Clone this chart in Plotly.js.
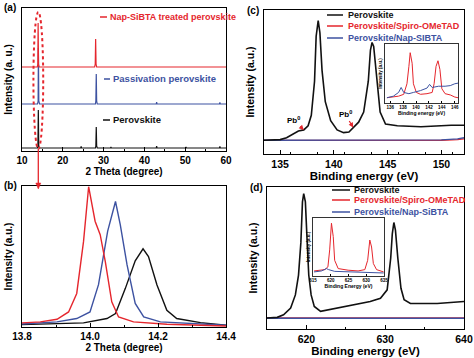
<!DOCTYPE html>
<html><head><meta charset="utf-8">
<script src="https://cdn.plot.ly/plotly-3.0.1.min.js"></script>
<style>html,body{margin:0;padding:0;background:#fff}#plot{width:474px;height:358px}</style>
</head><body><div id="plot"></div>
<script>
// ---------- Panel (a): XRD, full range (offset traces) ----------
const xrdPeroX = [10, 13.8, 13.9, 14.0, 14.1, 14.2, 24.4, 24.5, 24.6, 28.0, 28.1, 28.2, 28.3, 28.45, 31.7, 31.8, 31.9, 42.9, 43.0, 43.1, 50.1, 50.2, 50.3, 58.4, 58.5, 58.6, 60];
const xrdPeroY = [3, 3, 5, 41, 6, 3, 3, 4.5, 3, 3, 5, 24, 5, 3, 3, 4, 3, 3, 5, 3, 3, 4, 3, 3, 4.5, 3, 3];
const xrdPassX = [10, 13.8, 13.95, 14.02, 14.12, 14.3, 28.0, 28.1, 28.2, 28.3, 28.45, 42.9, 43.0, 43.1, 58.4, 58.5, 58.6, 60];
const xrdPassY = [47, 47, 50, 103, 50, 47, 47, 50, 77, 50, 47, 47, 49, 47, 47, 48.5, 47, 47];
const xrdNapX = [10, 13.75, 13.88, 13.95, 14.05, 14.2, 27.8, 27.95, 28.05, 28.15, 28.3, 60];
const xrdNapY = [84, 84, 87, 128, 87, 84, 84, 87, 112, 87, 84, 84];
const xrdTickVals = [10, 20, 30, 40, 50, 60];

// ---------- Panel (b): XRD zoom around 14 deg ----------
const bRedX = [13.8, 13.854, 13.903, 13.937, 13.961, 13.981, 13.996, 14.015, 14.03, 14.045, 14.064, 14.084, 14.128, 14.226, 14.4];
const bRedY = [0.029, 0.036, 0.055, 0.107, 0.238, 0.607, 0.995, 0.75, 0.655, 0.464, 0.179, 0.071, 0.036, 0.019, 0.007];
const bBlueX = [13.8, 13.903, 13.961, 14.0, 14.025, 14.052, 14.075, 14.089, 14.109, 14.133, 14.158, 14.207, 14.4];
const bBlueY = [0.021, 0.036, 0.06, 0.107, 0.3, 0.68, 0.89, 0.726, 0.44, 0.167, 0.071, 0.036, 0.012];
const bBlackX = [13.8, 13.981, 14.05, 14.075, 14.104, 14.133, 14.156, 14.172, 14.197, 14.226, 14.255, 14.325, 14.4];
const bBlackY = [0.017, 0.029, 0.06, 0.095, 0.274, 0.469, 0.555, 0.5, 0.298, 0.119, 0.06, 0.031, 0.012];
const bTickVals = [13.8, 14.0, 14.2, 14.4];
const bTickText = ['13.8', '14.0', '14.2', '14.4'];

// ---------- Panel (c): Pb 4f XPS ----------
const cPeroX = [133.5, 135, 135.6, 136.2, 136.7, 137.2, 137.6, 137.9, 138.2, 138.35, 138.54, 138.7, 138.9, 139.2, 139.7, 140.3, 140.9, 141.4, 141.8, 142.3, 142.77, 143.2, 143.4, 143.55, 143.7, 144.0, 144.3, 144.8, 145.9, 148.1, 149.6, 150.9, 152.1];
const cPeroY = [0.091, 0.095, 0.107, 0.13, 0.152, 0.159, 0.186, 0.255, 0.48, 0.777, 0.88, 0.8, 0.55, 0.345, 0.22, 0.159, 0.141, 0.145, 0.175, 0.21, 0.277, 0.48, 0.686, 0.736, 0.709, 0.48, 0.277, 0.198, 0.186, 0.18, 0.186, 0.19, 0.19];
const cSpiroX = [133.5, 140, 145, 150, 151.5, 152.1];
const cSpiroY = [0.09, 0.09, 0.09, 0.091, 0.095, 0.1];
const cNapX = [133.5, 140, 145, 150, 151.5, 152.1];
const cNapY = [0.091, 0.091, 0.091, 0.093, 0.1, 0.107];
const cTickVals = [135, 140, 145, 150];

// inset (c)
const ciRedX = [135.5, 136.5, 137.3, 138.1, 138.6, 138.9, 139.1, 139.4, 139.6, 140.05, 140.7, 141.7, 142.5, 142.8, 143.1, 143.4, 143.7, 144.0, 144.5, 145.3, 146.0, 146.5];
const ciRedY = [0.085, 0.1, 0.11, 0.14, 0.31, 0.59, 0.81, 0.64, 0.31, 0.17, 0.14, 0.15, 0.17, 0.31, 0.59, 0.68, 0.54, 0.23, 0.15, 0.13, 0.096, 0.085];
const ciBlueX = [135.5, 136.5, 137.3, 137.7, 138.1, 138.9, 139.6, 140.7, 141.7, 142.1, 142.5, 143.5, 144.5, 145.3, 146.0, 146.5];
const ciBlueY = [0.085, 0.11, 0.17, 0.25, 0.17, 0.15, 0.17, 0.2, 0.24, 0.3, 0.25, 0.27, 0.27, 0.28, 0.31, 0.32];
const ciTickVals = [136, 138, 140, 142, 144, 146];

// ---------- Panel (d): I 3d XPS ----------
const dPeroX = [615, 616.3, 617.1, 618.0, 618.6, 619.0, 619.3, 619.5, 619.66, 619.87, 620.1, 620.3, 620.6, 621.0, 621.8, 623.9, 626.0, 628.1, 629.4, 630.25, 630.7, 630.9, 631.1, 631.3, 631.6, 632.0, 632.4, 633.2, 636.6, 638.3, 640];
const dPeroY = [0.077, 0.082, 0.1, 0.147, 0.24, 0.38, 0.61, 0.895, 0.953, 0.895, 0.61, 0.38, 0.24, 0.159, 0.124, 0.147, 0.17, 0.194, 0.217, 0.276, 0.5, 0.67, 0.75, 0.696, 0.5, 0.287, 0.206, 0.18, 0.18, 0.187, 0.194];
const dSpiroX = [615, 625, 631, 632, 640];
const dSpiroY = [0.077, 0.077, 0.08, 0.077, 0.077];
const dNapX = [615, 625, 640];
const dNapY = [0.076, 0.076, 0.076];
const dTickVals = [620, 630, 640];

// inset (d)
const diRedX = [615.3, 616.9, 618.3, 619.2, 619.7, 620.2, 620.7, 621.1, 622.1, 624.9, 627.7, 629.6, 630.4, 631.0, 631.5, 632.0, 632.9, 634.9];
const diRedY = [0.087, 0.1, 0.11, 0.157, 0.45, 0.91, 0.68, 0.27, 0.128, 0.1, 0.087, 0.11, 0.27, 0.62, 0.5, 0.215, 0.11, 0.07];
const diBlueX = [615.3, 617.4, 618.8, 619.4, 621.1, 624.9, 629.6, 634.9];
const diBlueY = [0.07, 0.087, 0.128, 0.11, 0.08, 0.07, 0.064, 0.052];
const diTickVals = [615, 620, 625, 630, 635];

// ---------- styling ----------
const RED = '#e5262d', BLUE = '#3d52a1', BLACK = '#111111';
const W = 474, H = 358;
const px = v => v / W, py = v => 1 - v / H;
const FONT = 'Arial, Liberation Sans, sans-serif';

function ln(x, y, color, xa, ya, w) {
  return {x: x, y: y, type: 'scatter', mode: 'lines', xaxis: xa, yaxis: ya,
    line: {color: color, width: w || 1.4}, showlegend: false, hoverinfo: 'skip'};
}

const traces = [
  ln(xrdPeroX, xrdPeroY, BLACK, 'x', 'y', 1.2),
  ln(xrdPassX, xrdPassY, BLUE, 'x', 'y', 1.2),
  ln(xrdNapX, xrdNapY, RED, 'x', 'y', 1.2),
  ln(bBlackX, bBlackY, BLACK, 'x2', 'y2'),
  ln(bBlueX, bBlueY, BLUE, 'x2', 'y2'),
  ln(bRedX, bRedY, RED, 'x2', 'y2'),
  ln(cSpiroX, cSpiroY, RED, 'x3', 'y3'),
  ln(cNapX, cNapY, BLUE, 'x3', 'y3'),
  ln(cPeroX, cPeroY, BLACK, 'x3', 'y3', 1.6),
  ln(ciRedX, ciRedY, RED, 'x5', 'y5', 1),
  ln(ciBlueX, ciBlueY, BLUE, 'x5', 'y5', 1),
  ln(dSpiroX, dSpiroY, RED, 'x4', 'y4'),
  ln(dNapX, dNapY, BLUE, 'x4', 'y4'),
  ln(dPeroX, dPeroY, BLACK, 'x4', 'y4', 1.6),
  ln(diRedX, diRedY, RED, 'x6', 'y6', 1),
  ln(diBlueX, diBlueY, BLUE, 'x6', 'y6', 1)
];

function xax(dom, range, tickvals, ticktext, minorD, title, fs, anchor, tfs) {
  const a = {domain: dom, range: range, anchor: anchor, showline: true, linecolor: '#000', linewidth: 1.2,
    mirror: true, ticks: 'inside', ticklen: 4, tickwidth: 1, tickcolor: '#000',
    tickvals: tickvals, showgrid: false, zeroline: false, automargin: false,
    tickfont: {family: FONT, size: fs, color: '#000', weight: 'bold'},
    title: {text: title, font: {family: FONT, size: tfs || fs, color: '#000', weight: 'bold'}, standoff: 2}};
  if (ticktext) a.ticktext = ticktext;
  if (minorD) a.minor = {dtick: minorD, tick0: range[0], ticks: 'inside', ticklen: 2.5, tickcolor: '#000', showgrid: false};
  return a;
}
function yax(dom, range, title, fs, anchor, standoff) {
  return {domain: dom, range: range, anchor: anchor, showline: true, linecolor: '#000', linewidth: 1.2,
    mirror: true, ticks: '', showticklabels: false, showgrid: false, zeroline: false, automargin: false,
    title: {text: title, font: {family: FONT, size: fs, color: '#000', weight: 'bold'}, standoff: standoff}};
}
function lbl(text, x, y, color, size) {
  return {text: text, xref: 'paper', yref: 'paper', x: px(x), y: py(y), xanchor: 'left', yanchor: 'middle',
    showarrow: false, font: {family: FONT, size: size, weight: 'bold', color: color}};
}
function dash(x0, x1, y, color) {
  return {type: 'line', xref: 'paper', yref: 'paper', x0: px(x0), x1: px(x1), y0: py(y), y1: py(y), line: {color: color, width: 1.5}};
}

const layout = {
  width: W, height: H, margin: {l: 0, r: 0, t: 0, b: 0},
  paper_bgcolor: '#fff', plot_bgcolor: '#fff', showlegend: false,
  xaxis: xax([px(22), px(226)], [10, 60], xrdTickVals, null, 5, '2 Theta (degree)', 10, 'y'),
  yaxis: yax([py(151), py(8)], [0, 143], 'Intensity (a. u.)', 10, 'x', 6),
  xaxis2: xax([px(22), px(226)], [13.8, 14.4], bTickVals, bTickText, 0.1, '2 Theta (degree)', 10, 'y2'),
  yaxis2: yax([py(327), py(186)], [0, 1.0], 'Intensity (a.u.)', 10, 'x2', 6),
  xaxis3: xax([px(264), px(464)], [133.5, 152.1], cTickVals, null, 2.5, 'Binding energy (eV)', 10.5, 'y3', 11.5),
  yaxis3: yax([py(154), py(10)], [0, 0.95], 'Intensity (a.u.)', 10.5, 'x3', 6),
  xaxis4: xax([px(267), px(464)], [615, 640], dTickVals, null, 5, 'Binding energy (eV)', 10.5, 'y4', 11.5),
  yaxis4: yax([py(329), py(187)], [0, 1.0], 'Intensity (a.u.)', 10.5, 'x4', 6),
  xaxis5: Object.assign(xax([px(385), px(458)], [135.2, 146.5], ciTickVals, null, null, 'Binding energy (eV)', 4.5, 'y5', 5), {linewidth: 0.8, ticklen: 2}),
  yaxis5: Object.assign(yax([py(103), py(44)], [0, 0.95], 'Intensity (a.u.)', 4.5, 'x5', 1), {linewidth: 0.8}),
  xaxis6: Object.assign(xax([px(313), px(384)], [615, 635], diTickVals, null, null, 'Binding Energy (eV)', 4.5, 'y6', 5), {linewidth: 0.8, ticklen: 2}),
  yaxis6: Object.assign(yax([py(276), py(218)], [0, 1.0], 'Intensity (a.u.)', 4.5, 'x6', 1), {linewidth: 0.8}),
  shapes: [
    // dotted ellipse around the 14 deg peak
    {type: 'circle', xref: 'x', yref: 'y', x0: 12.8, x1: 15.2, y0: 2, y1: 139, line: {color: RED, width: 2, dash: 'dot'}},
    // connecting line from (a) to (b) with arrow head
    {type: 'line', xref: 'paper', yref: 'paper', x0: px(38.3), x1: px(38.3), y0: py(149), y1: py(185), line: {color: RED, width: 1.3}},
    {type: 'path', xref: 'paper', yref: 'paper', path: 'M ' + px(35.8) + ' ' + py(183) + ' L ' + px(40.8) + ' ' + py(183) + ' L ' + px(38.3) + ' ' + py(189) + ' Z', fillcolor: RED, line: {color: RED, width: 0.5}},
    // legend dashes panel (a)
    dash(100, 107, 17, RED), dash(104, 110, 79, BLUE), dash(103, 110, 120, BLACK),
    // legend lines panel (c)
    dash(327, 343, 15, BLACK), dash(327, 343, 26, RED), dash(327, 343, 38, BLUE),
    // legend lines panel (d)
    dash(332, 350, 190, BLACK), dash(332, 350, 200, RED), dash(332, 350, 212, BLUE)
  ],
  annotations: [
    lbl('(a)', 2, 8, '#000', 10), lbl('(b)', 2, 186, '#000', 10),
    lbl('(c)', 245, 10, '#000', 10), lbl('(d)', 248, 187, '#000', 10),
    lbl('Nap-SiBTA treated perovskite', 108, 17, RED, 9),
    lbl('Passivation perovskite', 111, 79, BLUE, 9.5),
    lbl('Perovskite', 111, 120, BLACK, 9.5),
    lbl('Perovskite', 346, 15, BLACK, 9),
    lbl('Perovskite/Spiro-OMeTAD', 346, 26, RED, 9),
    lbl('Perovskite/Nap-SIBTA', 346, 38, BLUE, 9),
    lbl('Perovskite', 352, 190, BLACK, 9),
    lbl('Perovskite/Spiro-OMeTAD', 352, 200, RED, 9),
    lbl('Perovskite/Nap-SiBTA', 352, 212, BLUE, 9),
    // Pb0 labels
    {text: 'Pb<sup>0</sup>', xref: 'x3', yref: 'y3', x: 137.2, y: 0.159, ax: -10, ay: -10, showarrow: true, arrowhead: 2, arrowsize: 0.8, arrowwidth: 1.2, arrowcolor: RED, font: {family: FONT, size: 8, weight: 'bold', color: '#000'}},
    {text: 'Pb<sup>0</sup>', xref: 'x3', yref: 'y3', x: 141.8, y: 0.175, ax: -8, ay: -13, showarrow: true, arrowhead: 2, arrowsize: 0.8, arrowwidth: 1.2, arrowcolor: RED, font: {family: FONT, size: 8, weight: 'bold', color: '#000'}}
  ]
};

Plotly.newPlot('plot', traces, layout, {staticPlot: true, displayModeBar: false});
</script>
</body></html>
